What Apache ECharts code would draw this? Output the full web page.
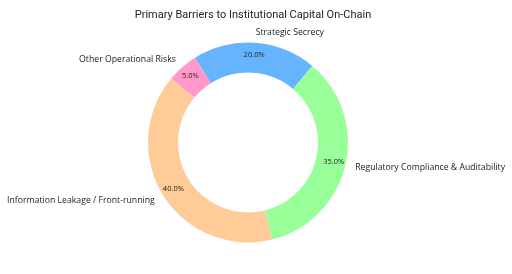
<!DOCTYPE html>
<html>
<head>
<meta charset="utf-8">
<script src="https://cdn.jsdelivr.net/npm/echarts@6/dist/echarts.min.js"></script>
<style>
html,body{margin:0;padding:0;background:#fff;}
#chart{width:512px;height:274px;}
</style>
</head>
<body>
<div id="chart"></div>
<script>
const titleText = "Primary Barriers to Institutional Capital On-Chain";
const categories = ["Strategic Secrecy", "Regulatory Compliance & Auditability", "Information Leakage / Front-running", "Other Operational Risks"];
const values = [20, 35, 40, 5];
const colors = ["#66b3ff", "#99ff99", "#ffcc99", "#ff99cc"];

const FONT = "Open Sans";
const center = [248, 142.5];
const dataItems = categories.map((c, i) => ({ name: c, value: values[i], itemStyle: { color: colors[i] } }));

const chart = echarts.init(document.getElementById('chart'), null, { renderer: 'canvas' });
chart.setOption({
  animation: false,
  backgroundColor: '#ffffff',
  title: {
    text: titleText,
    left: 248, top: 5, textAlign: 'center',
    textStyle: { fontFamily: 'Roboto', fontSize: 11, fontWeight: 'normal', color: '#222' }
  },
  series: [
    {
      type: 'pie',
      center: center,
      radius: [70, 100],
      startAngle: 122,
      clockwise: true,
      avoidLabelOverlap: false,
      silent: true,
      data: dataItems,
      label: {
        show: true, position: 'inside',
        fontFamily: FONT, fontSize: 7.5, color: '#222',
        formatter: p => p.percent.toFixed(1) + '%'
      },
      labelLine: { show: false }
    },
    {
      type: 'pie',
      center: center,
      radius: [70, 100],
      startAngle: 122,
      clockwise: true,
      avoidLabelOverlap: false,
      silent: true,
      data: categories.map((c, i) => ({ name: c, value: values[i], itemStyle: { color: 'rgba(0,0,0,0)' } })),
      label: {
        show: true, position: 'outside',
        distanceToLabelLine: 0,
        fontFamily: FONT, fontSize: 8.7, color: '#222',
        formatter: '{b}'
      },
      labelLine: { show: false, length: 10, length2: 0 }
    }
  ]
});
</script>
</body>
</html>
